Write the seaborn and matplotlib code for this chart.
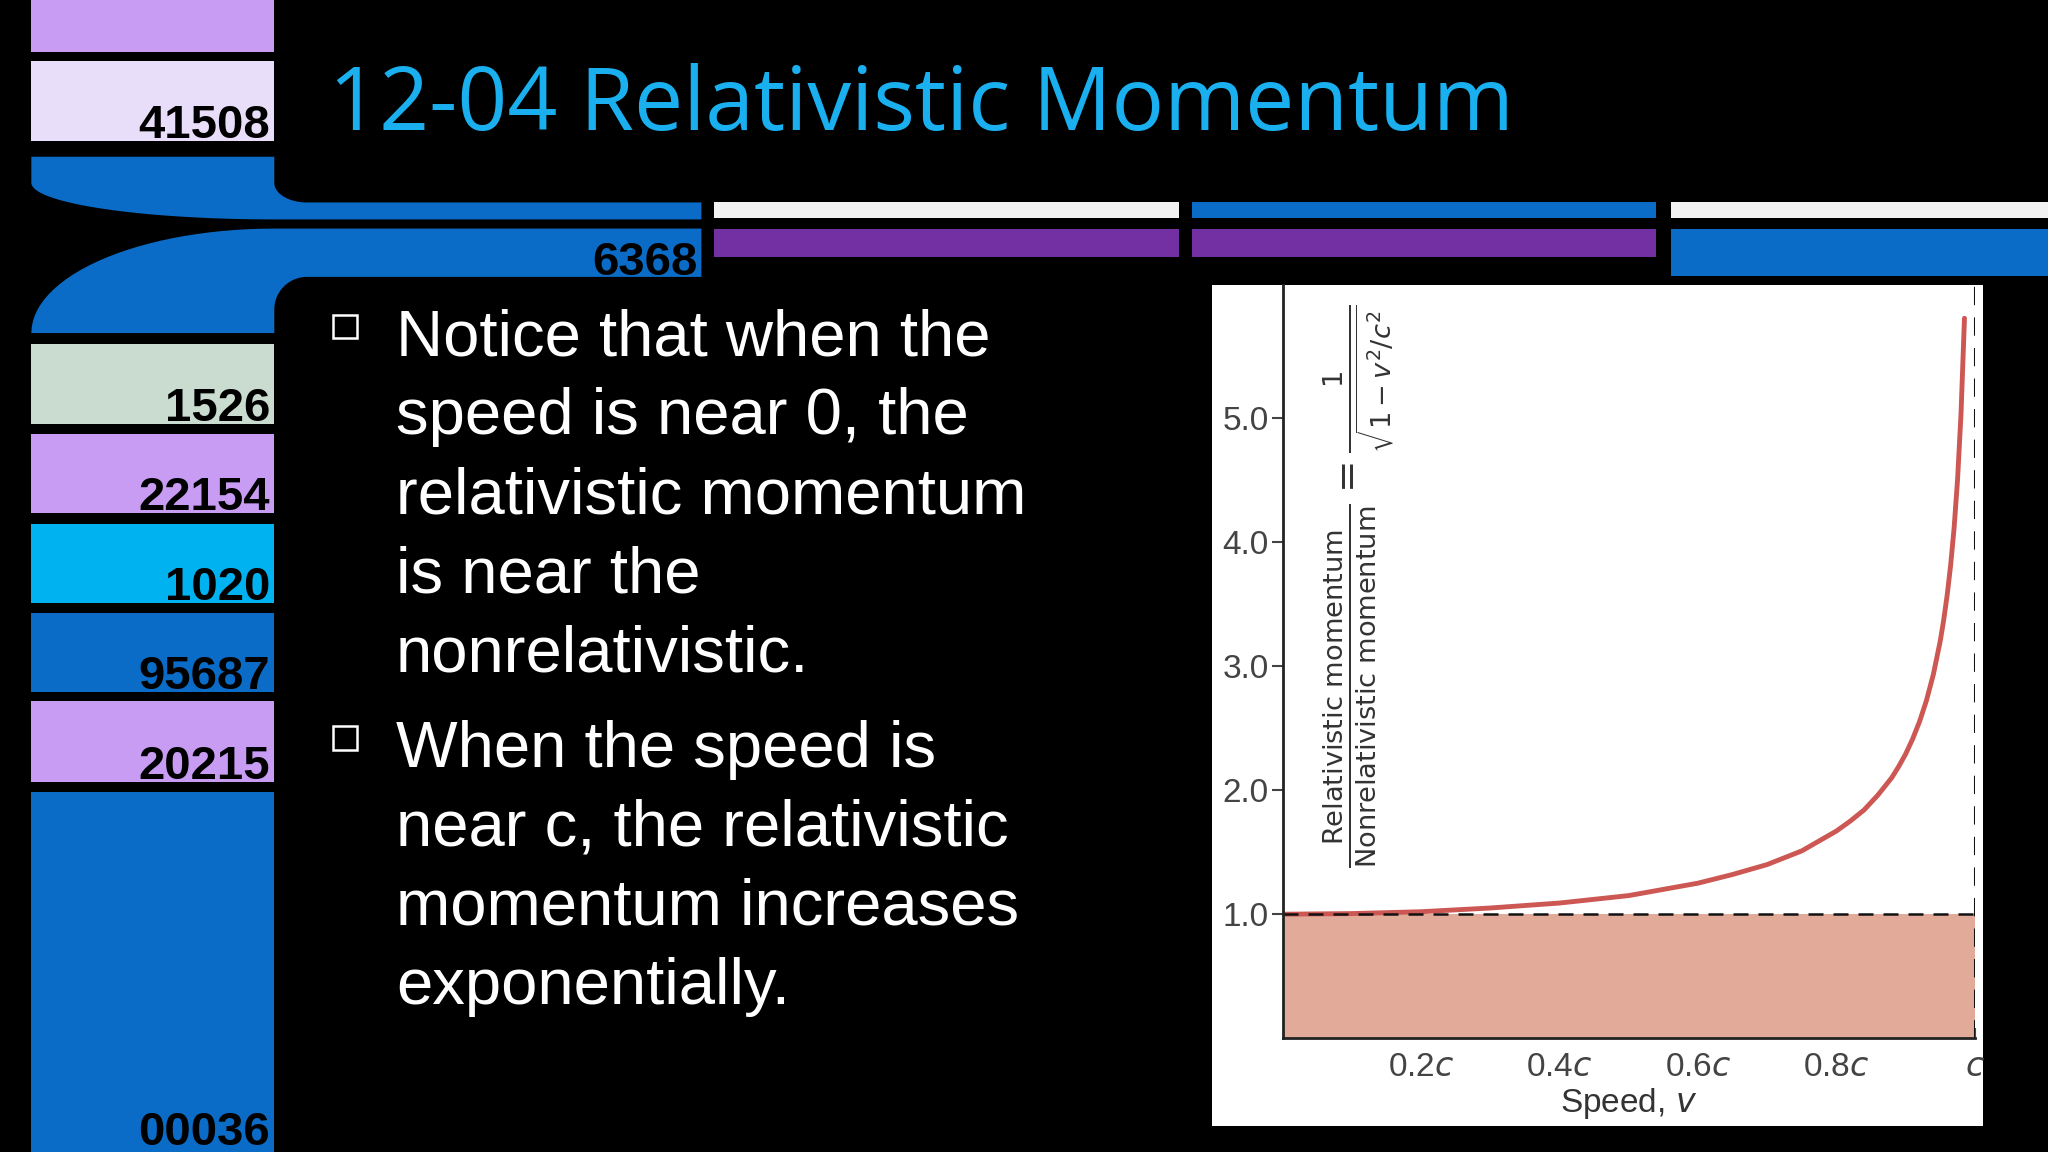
import numpy as np
import pandas as pd
import matplotlib.pyplot as plt
import matplotlib.patches as mpatches
import seaborn as sns

sns.set_theme(style="white")
plt.rcParams["font.family"] = ["Liberation Sans", "DejaVu Sans"]

# data (speed as fraction of c, momentum ratio)
speed = [0.0, 0.1, 0.2, 0.3, 0.4, 0.45, 0.5, 0.55, 0.6, 0.65, 0.7, 0.75, 0.8, 0.82, 0.84,
         0.86, 0.87, 0.88, 0.89, 0.9, 0.91, 0.92, 0.93, 0.94, 0.95, 0.955, 0.96, 0.965,
         0.97, 0.975, 0.98, 0.985]
ratio = [1.0, 1.005, 1.02, 1.05, 1.09, 1.12, 1.15, 1.20, 1.25, 1.32, 1.40, 1.51, 1.67, 1.75,
         1.84, 1.96, 2.03, 2.10, 2.19, 2.29, 2.41, 2.55, 2.72, 2.93, 3.20, 3.37, 3.57, 3.81,
         4.11, 4.50, 5.03, 5.80]
xticks = [0.2, 0.4, 0.6, 0.8, 1.0]
xtick_labels = ["0.2$c$", "0.4$c$", "0.6$c$", "0.8$c$", "$c$"]
yticks = [1.0, 2.0, 3.0, 4.0, 5.0]

W, H = 1568, 882
fig = plt.figure(figsize=(20.48, 11.52), dpi=100, facecolor="black")
bg = fig.add_axes([0, 0, 1, 1])
bg.set_xlim(0, W)
bg.set_ylim(H, 0)
bg.axis("off")

LAV, PALE, BLUE, CYAN, GREEN, PURP = "#c79cf2", "#e9def9", "#0a6cc6", "#00b3f0", "#c9dccf", "#7230a3"


def rect(x0, y0, x1, y1, c):
    bg.add_patch(mpatches.Rectangle((x0, y0), x1 - x0, y1 - y0, color=c, lw=0))


def arc(cx, cy, rx, ry, a0, a1, n=30):
    t = np.linspace(np.radians(a0), np.radians(a1), n)
    return list(zip(cx + rx * np.cos(t), cy + ry * np.sin(t)))


def label(txt, x, y):
    bg.text(x, y, txt, ha="right", va="bottom", fontsize=34, fontweight="bold", color="black")


# left LCARS column
rect(24, 0, 210, 40, LAV)
rect(24, 47, 210, 108, PALE); label("41508", 207, 113)
# first elbow
v = ([(24, 120), (210, 120)] + arc(235, 140, 25, 15, 180, 90)
     + [(537, 155), (537, 168)] + arc(210, 140, 186, 28, 90, 180))
bg.add_patch(mpatches.Polygon(v, closed=True, color=BLUE, lw=0))
# second elbow
v2 = ([(537, 175), (537, 212)] + arc(235, 237, 25, 25, 270, 180)
      + [(210, 255), (24, 255)] + arc(210, 255, 186, 80, 180, 270))
bg.add_patch(mpatches.Polygon(v2, closed=True, color=BLUE, lw=0))
label("6368", 534, 218)
rect(24, 263, 210, 325, GREEN); label("1526", 207, 330)
rect(24, 332, 210, 393, LAV); label("22154", 207, 398)
rect(24, 401, 210, 462, CYAN); label("1020", 207, 467)
rect(24, 469, 210, 530, BLUE); label("95687", 207, 535)
rect(24, 537, 210, 599, LAV); label("20215", 207, 604)
rect(24, 606, 210, 882, BLUE); label("00036", 207, 884)

# top bars
rect(547, 155, 903, 167, "#f2f2f2"); rect(913, 155, 1268, 167, BLUE); rect(1279, 155, 1568, 167, "#f2f2f2")
rect(547, 175, 903, 197, PURP); rect(913, 175, 1268, 197, PURP); rect(1279, 175, 1568, 211, BLUE)

bg.text(252, 82, "12-04 Relativistic Momentum", color="#1ab0f0", fontsize=63,
        va="center", ha="left", family=["Open Sans", "DejaVu Sans"])

lines1 = ["Notice that when the", "speed is near 0, the", "relativistic momentum",
          "is near the", "nonrelativistic."]
lines2 = ["When the speed is", "near c, the relativistic", "momentum increases",
          "exponentially."]
for i, t in enumerate(lines1):
    bg.text(303, 259 + i * 60.5, t, color="white", fontsize=47, va="center")
for i, t in enumerate(lines2):
    bg.text(303, 574 + i * 60.5, t, color="white", fontsize=47, va="center")
for y in (250, 565):
    bg.add_patch(mpatches.Rectangle((255, y - 9), 18, 18, fill=False, ec="white", lw=1.8))

# white panel for the chart
rect(928, 218, 1518, 862, "white")

ax = fig.add_axes([982 / W, 1 - 795 / H, 530 / W, (795 - 218) / H])
ax.set_facecolor("white")
df = pd.DataFrame({"speed": speed, "ratio": ratio})
ax.fill_between([0, 1], 0, 1, color="#e2aa99", lw=0)
sns.lineplot(data=df, x="speed", y="ratio", ax=ax, color="#cc5753", lw=3.5)
ax.axhline(1.0, color="#111111", ls=(0, (6, 4)), lw=1.8)
ax.axvline(1.0, color="#111111", ls=(0, (6, 4)), lw=2.2)
ax.set_xlim(0, 1.0)
ax.set_ylim(0, 6.07)
for s in ("top", "right"):
    ax.spines[s].set_visible(False)
for s in ("left", "bottom"):
    ax.spines[s].set_color("#222222")
    ax.spines[s].set_linewidth(2)
ax.set_xticks(xticks)
ax.set_xticklabels(xtick_labels)
ax.set_yticks(yticks)
ax.set_yticklabels([f"{t:.1f}" for t in yticks])
ax.tick_params(axis="x", bottom=True, direction="in", length=7, width=1.5, colors="#444444",
               labelsize=24, pad=10)
ax.tick_params(axis="y", left=True, direction="out", length=8, width=1.5, colors="#444444",
               labelsize=24, pad=2)
ax.set_xlabel("Speed, $v$", fontsize=24, color="#333333", labelpad=2)
ax.set_ylabel("")
ax.text(0.11, 0.6,
        r"$\frac{\mathrm{Relativistic\ momentum}}{\mathrm{Nonrelativistic\ momentum}}"
        r" = \frac{1}{\sqrt{1-v^2/c^2}}$",
        transform=ax.transAxes, rotation=90, ha="center", va="center",
        fontsize=28, color="#333333")

plt.savefig("out.png", dpi=100, facecolor="black")
plt.close()
